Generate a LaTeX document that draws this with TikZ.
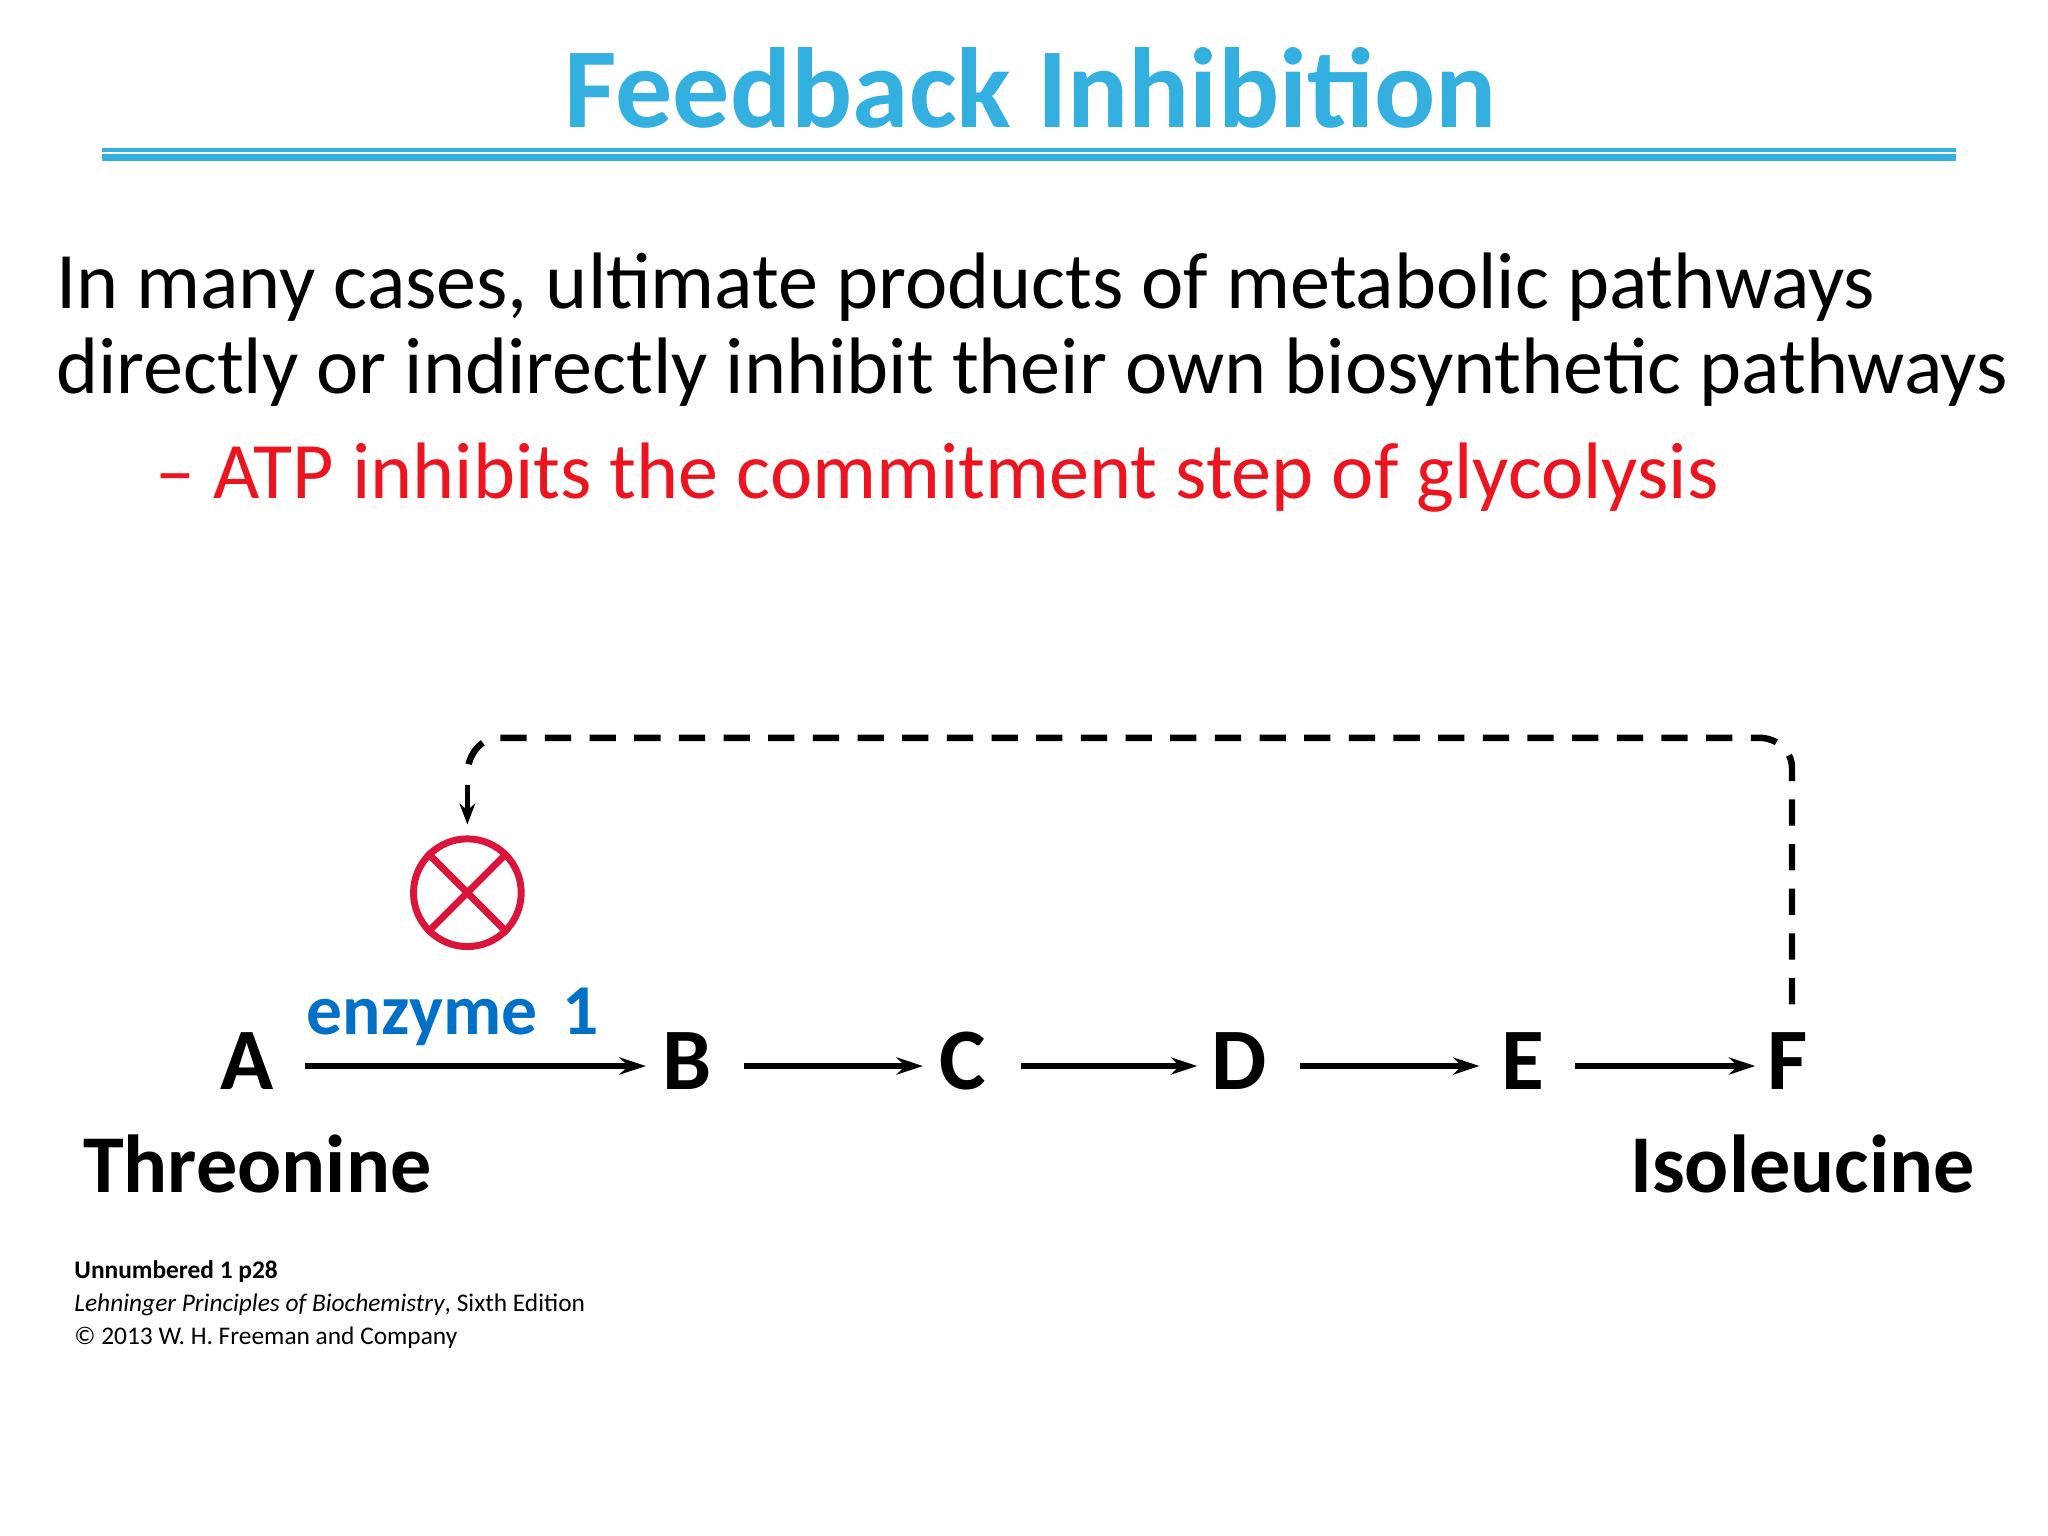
\documentclass[tikz,border=0pt]{standalone}
\usepackage{fontspec}
\setmainfont{Carlito}
\usetikzlibrary{arrows.meta}
\definecolor{ttl}{RGB}{52,176,224}
\definecolor{enz}{RGB}{0,112,200}
\definecolor{inh}{RGB}{218,20,58}
\definecolor{red1}{RGB}{236,20,30}
\tikzset{
  lett/.style={font=\fontsize{19}{23}\selectfont\bfseries, inner sep=0pt, anchor=base},
  lbl/.style={font=\fontsize{17.8}{21}\selectfont\bfseries, inner sep=0pt, anchor=base},
  rx/.style={-{Stealth[length=0.2cm,width=0.13cm]}, line width=1.2pt},
  body/.style={font=\fontsize{17.35}{21}\selectfont, inner sep=0pt, anchor=base west},
  capt/.style={font=\fontsize{5.5}{7}\selectfont, inner sep=0pt, anchor=base west}
}
\begin{document}
\begin{tikzpicture}[x=0.01cm,y=-0.01cm]
\useasboundingbox (0,0) rectangle (1560,1170);
\node[inner sep=0pt,anchor=base,font=\fontsize{24.7}{30}\selectfont\bfseries,text=ttl] (title) at (785,97) {Feedback Inhibition};
\draw[ttl,line width=0.8pt] (78,114) -- (1490,114);
\draw[ttl,line width=1.6pt] (78,120) -- (1490,120);
\node[body] (l1) at (42,235) {In many cases, ultimate products of metabolic pathways};
\node[body] (l2) at (42,300) {directly or indirectly inhibit their own biosynthetic pathways};
\node[body,text=red1] (l3) at (118,380) {– ATP inhibits the commitment step of glycolysis};
\node[lett] (A) at (188,830) {A};
\node[lett] (B) at (523,830) {B};
\node[lett] (C) at (733,830) {C};
\node[lett] (D) at (944,830) {D};
\node[lett] (E) at (1160,830) {E};
\node[lett] (F) at (1362,830) {F};
\draw[rx] (232,812) -- (492,812);
\draw[rx] (567,812) -- (703,812);
\draw[rx] (778,812) -- (912,812);
\draw[rx] (990,812) -- (1127,812);
\draw[rx] (1200,812) -- (1337,812);
\node[inner sep=0pt,anchor=base west,font=\fontsize{15.5}{19}\selectfont\bfseries,text=enz] (enz) at (233,788) {enzyme\hspace{0.35em}1};
\node[lbl] (thr) at (196,908) {Threonine};
\node[lbl] (iso) at (1373,908) {Isoleucine};
\node[circle,draw=inh,line width=1.5pt,minimum size=0.82cm,inner sep=0pt] (inhb) at (356,680) {};
\draw[inh,line width=1.5pt] (inhb.45) -- (inhb.225) (inhb.135) -- (inhb.315);
\coordinate (ftop) at (1365,765);
\coordinate (atip) at (356,628);
\draw[line width=1.4pt,dash pattern=on 0.2cm off 0.14cm] (ftop) -- (1365,585) to[out=90,in=0] (1340,562) -- (380,562) to[out=180,in=90] (356,590);
\draw[-{Stealth[length=0.16cm,width=0.12cm]},line width=1.2pt] (356,598) -- (atip);
\node[capt] (c1) at (56,974) {\bfseries Unnumbered 1 p28};
\node[capt] (c2) at (56,999) {\itshape Lehninger Principles of Biochemistry\upshape, Sixth Edition};
\node[capt] (c3) at (56,1024) {© 2013 W. H. Freeman and Company};
\end{tikzpicture}
\end{document}
